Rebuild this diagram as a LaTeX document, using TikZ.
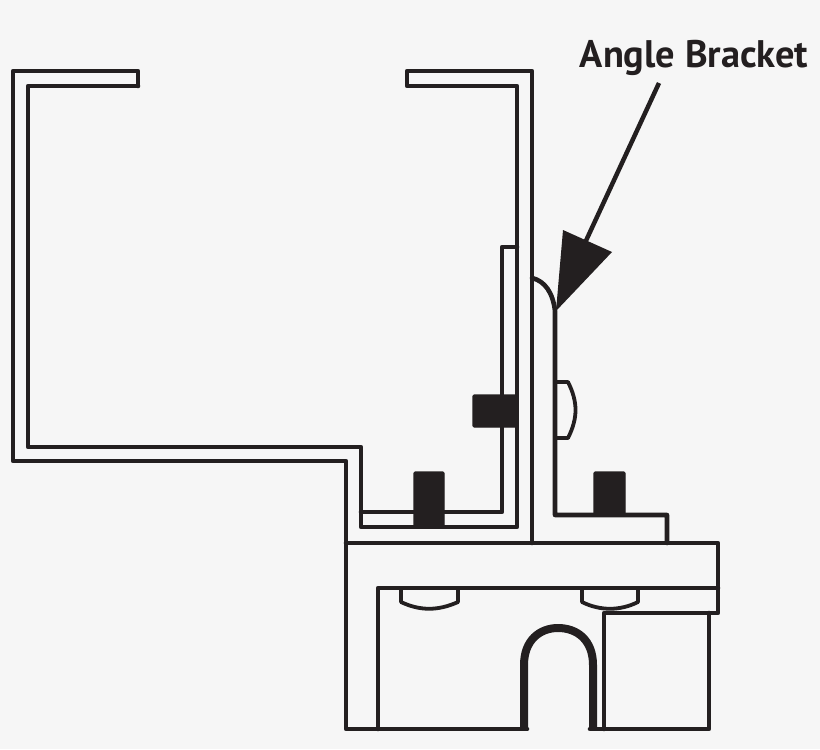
\documentclass[tikz,border=0pt]{standalone}
\usepackage{fontspec}
\setmainfont{PT Sans}
\definecolor{ink}{HTML}{231F20}
\definecolor{paper}{HTML}{F6F6F6}
\tikzset{
  wire/.style={draw=ink,line width=4.6pt*0.75,line join=round,line cap=round},
  thin wire/.style={draw=ink,line width=3.8pt*0.75,line join=round},
  solid part/.style={fill=ink,draw=ink,line width=1pt,rounded corners=1pt},
  pointer/.style={draw=ink,line width=4.5pt*0.75},
  label text/.style={font=\bfseries\fontsize{28.8pt}{32pt}\selectfont,text=ink,inner sep=0pt,anchor=base}
}
\begin{document}
\begin{tikzpicture}[x=0.75pt,y=-0.75pt]
\path[fill=paper] (0,0) rectangle (820,749);
\useasboundingbox (0,0) rectangle (820,749);
% channel
\draw[wire] (138,86) -- (138,71) -- (13,71) -- (13,461) -- (346,461) -- (346,729) -- (527,729);
\draw[wire] (138,86) -- (28,86) -- (28,447) -- (361,447) -- (361,527) -- (517,527) -- (517,86) -- (407,86) -- (407,71) -- (532,71) -- (532,543);
% inner leg of bracket
\draw[wire] (517,247) -- (502,247) -- (502,512) -- (361,512);
% bolts
\path[solid part] (414,472) rectangle (444,527);
\path[solid part] (594,472) rectangle (625,515);
\path[solid part] (473,395) rectangle (517,427);
% angle bracket
\draw[wire] (532,278) .. controls (545,281) and (553,293) .. (555,311) -- (555,515) -- (667,515) -- (667,543);
\draw[thin wire] (555,382) -- (568,382) .. controls (578,402) and (578,418) .. (568,438) -- (555,438);
% plate
\draw[wire] (346,543) -- (718,543) -- (718,613) -- (604,613) -- (604,729);
\draw[wire] (718,588) -- (378,588) -- (378,729);
\draw[wire] (709,613) -- (709,729) -- (590,729);
% washers
\draw[thin wire] (401,590) -- (401,602) .. controls (420,611) and (438,611) .. (458,602) -- (458,590);
\draw[thin wire] (582,590) -- (582,602) .. controls (600,611) and (620,611) .. (638,602) -- (638,590);
% clip
\draw[draw=ink,line width=8pt*0.75] (524,729) -- (524,665) .. controls (524,640) and (540,628) .. (558,628) .. controls (577,628) and (593,640) .. (593,665) -- (593,729);
% label and arrow
\node[label text] (lbl) at (694,68) {Angle Bracket};
\coordinate (tip) at (556,311);
\coordinate (tail) at (659,83);
\coordinate (headL) at (563,230);
\coordinate (headR) at (612,252);
\draw[pointer] (tail) -- (584,245);
\fill[ink] (headL) -- (headR) -- (tip) -- cycle;
\end{tikzpicture}
\end{document}
